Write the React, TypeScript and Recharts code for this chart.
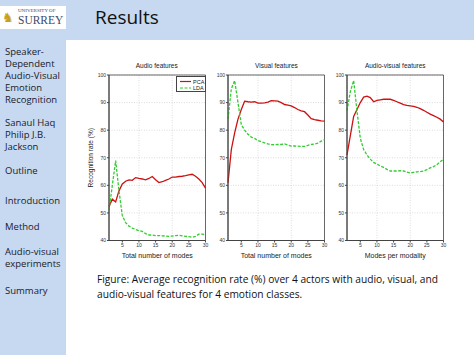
import React from 'react';
import { LineChart, Line, XAxis, YAxis, CartesianGrid, ReferenceArea } from 'recharts';

const modes = [1, 2, 3, 4, 5, 6, 7, 8, 9, 10, 11, 12, 13, 14, 15, 16, 17, 18, 19, 20, 21, 22, 23, 24, 25, 26, 27, 28, 29, 30];

const audioPca = [52.3, 55, 54, 58, 60.5, 61.5, 62, 61.8, 62.8, 62.5, 62.3, 62, 62.5, 63.2, 62, 61, 61.3, 61.8, 62.3, 63, 63, 63.2, 63.3, 63.5, 63.8, 64, 63.3, 62.3, 61, 59];
const audioLda = [51, 60, 69, 58, 49, 46.5, 45.2, 44.5, 44, 43.6, 43.3, 42.5, 42, 42, 41.8, 41.8, 41.7, 41.6, 41.5, 41.6, 41.8, 41.9, 41.7, 41.5, 41.4, 41.2, 41.5, 42.3, 42.3, 42.1];

const visualPca = [61, 73, 79, 84, 87.5, 90.5, 90.3, 90.2, 90.3, 89.8, 89.8, 89.9, 90.2, 90.7, 90.6, 90.5, 90, 89.3, 89.1, 88.8, 88.2, 87.5, 87, 86.7, 85.5, 84.2, 83.8, 83.6, 83.4, 83.3];
const visualLda = [84, 95, 98, 90, 82, 80, 78.5, 77.5, 77, 76.2, 75.8, 75.4, 75, 74.8, 74.7, 74.8, 74.8, 75, 74.6, 74.2, 74.3, 74.2, 74.1, 74.1, 74.5, 74.8, 75, 75.3, 76, 76.5];

const avPca = [71, 78, 85, 87.5, 90, 92, 92.3, 91.8, 90.3, 90.8, 91, 91.2, 91.2, 91.2, 90.8, 90.3, 89.8, 89.3, 89, 88.8, 88.6, 88.3, 87.8, 87.2, 86.5, 85.8, 85.3, 84.7, 84, 83];
const avLda = [87, 94, 98, 87, 77, 73, 71, 69.5, 68.3, 67.7, 67, 66.5, 65.8, 65.2, 65.2, 65.2, 65.3, 65.2, 64.8, 64.5, 64.7, 64.9, 65, 65.2, 65.7, 66.3, 66.8, 67.5, 68.5, 69.5];

const xTicks = [5, 10, 15, 20, 25, 30];
const yTicks = [40, 50, 60, 70, 80, 90, 100];

const sideItems = [
  'Speaker-', 'Dependent', 'Audio-Visual', 'Emotion', 'Recognition',
  'Sanaul Haq', 'Philip J.B.', 'Jackson', 'Outline', 'Introduction', 'Method',
  'Audio-visual', 'experiments', 'Summary',
];
// vertical centre of each sidebar line
const sideTops = [52, 64, 76, 88, 100, 123, 135, 147, 171, 201, 227, 252, 264, 291];

const tableFor = (pca: number[], lda: number[]) =>
  modes.map((m, i) => ({ mode: m, pca: pca[i], lda: lda[i] }));

const sans = 'Liberation Sans, Arial, sans-serif';
const tickStyle = { fontSize: 5, fill: '#333', fontFamily: sans };

interface PanelProps {
  left: number;
  title: string;
  xLabel: string;
  pca: number[];
  lda: number[];
  yLabel?: boolean;
  legend?: boolean;
}

const Panel: React.FC<PanelProps> = ({ left, title, xLabel, pca, lda, yLabel, legend }) => {
  const axisW = yLabel ? 24 : 12;
  const plotW = 96.5;
  return (
    <div style={{ position: 'absolute', left: left - axisW, top: 60 }}>
      <div style={{ position: 'absolute', left: axisW, top: 2, width: plotW, textAlign: 'center', fontSize: 6.5, color: '#222', fontFamily: sans }}>
        {title}
      </div>
      <LineChart
        width={axisW + plotW + 4}
        height={200}
        data={tableFor(pca, lda)}
        margin={{ top: 15, right: 4, left: 0, bottom: 0 }}
      >
        <CartesianGrid stroke="#bbb" strokeDasharray="1 1.5" strokeWidth={0.5} />
        <XAxis
          dataKey="mode"
          type="number"
          domain={[1, 30]}
          ticks={xTicks}
          height={19.5}
          tick={tickStyle}
          tickSize={2}
          tickMargin={1}
          stroke="#444"
          label={{ value: xLabel, position: 'insideBottom', offset: 2, fontSize: 7, fill: '#222', fontFamily: sans }}
        />
        <YAxis
          type="number"
          domain={[40, 100]}
          ticks={yTicks}
          width={axisW}
          tick={tickStyle}
          tickSize={2}
          tickMargin={1}
          stroke="#444"
          label={yLabel ? { value: 'Recognition rate (%)', angle: -90, position: 'insideLeft', offset: 6, fontSize: 6.5, fill: '#222', fontFamily: sans, style: { textAnchor: 'middle' } } : undefined}
        />
        <ReferenceArea x1={1} x2={30} y1={40} y2={100} fill="none" stroke="#444" strokeWidth={0.8} ifOverflow="visible" />
        <Line type="linear" dataKey="pca" stroke="#cc1111" strokeWidth={1.3} dot={false} isAnimationActive={false} />
        <Line type="linear" dataKey="lda" stroke="#33cc33" strokeWidth={1.3} strokeDasharray="3 1.5" dot={false} isAnimationActive={false} />
      </LineChart>
      {legend && (
        <div style={{ position: 'absolute', left: axisW + 67, top: 16, width: 30, height: 16, background: '#fff', border: '0.8px solid #444', boxSizing: 'border-box' }}>
          <svg width={30} height={16} style={{ position: 'absolute', left: 0, top: 0 }}>
            <line x1={3} y1={4.5} x2={14} y2={4.5} stroke="#cc1111" strokeWidth={1.2} />
            <line x1={3} y1={11} x2={14} y2={11} stroke="#33cc33" strokeWidth={1.2} strokeDasharray="3 1.5" />
            <text x={16} y={6.5} fontSize={5.5} fill="#222" fontFamily={sans}>PCA</text>
            <text x={16} y={13} fontSize={5.5} fill="#222" fontFamily={sans}>LDA</text>
          </svg>
        </div>
      )}
    </div>
  );
};

export default function App() {
  return (
    <div style={{ position: 'absolute', left: 0, top: 0, width: 474, height: 355, background: '#fff', overflow: 'hidden', fontFamily: 'Open Sans, Liberation Sans, sans-serif' }}>
      <div style={{ position: 'absolute', left: 0, top: 0, width: 474, height: 40, background: '#c6d9f1' }} />
      <div style={{ position: 'absolute', left: 0, top: 40, width: 66, height: 315, background: '#c6d9f1' }} />
      <div style={{ position: 'absolute', left: 0, top: 6, width: 66, height: 23, background: '#fff' }}>
        <div style={{ position: 'absolute', left: 2, top: 3, fontSize: 13, color: '#c8a020', lineHeight: '16px' }}>♞</div>
        <div style={{ position: 'absolute', left: 18, top: 2, fontSize: 5, color: '#3a4a6a', fontFamily: 'Liberation Serif, serif' }}>UNIVERSITY OF</div>
        <div style={{ position: 'absolute', left: 18, top: 8, fontSize: 11.5, color: '#3a4a6a', fontFamily: 'Liberation Serif, serif', lineHeight: '12px' }}>SURREY</div>
      </div>
      <div style={{ position: 'absolute', left: 95, top: 4, fontSize: 19, color: '#111', fontFamily: 'Open Sans, sans-serif' }}>Results</div>
      {sideItems.map((s, i) => (
        <div key={i} style={{ position: 'absolute', left: 5, top: sideTops[i] - 7, fontSize: 9.5, lineHeight: '14px', color: '#1a1a2a', fontFamily: 'Open Sans, sans-serif', whiteSpace: 'nowrap' }}>{s}</div>
      ))}
      <Panel left={108.5} title="Audio features" xLabel="Total number of modes" pca={audioPca} lda={audioLda} yLabel legend />
      <Panel left={228.2} title="Visual features" xLabel="Total number of modes" pca={visualPca} lda={visualLda} />
      <Panel left={347} title="Audio-visual features" xLabel="Modes per modality" pca={avPca} lda={avLda} />
      <div style={{ position: 'absolute', left: 97, top: 272, fontSize: 10.2, lineHeight: '15px', color: '#111', fontFamily: 'Open Sans, sans-serif', whiteSpace: 'nowrap' }}>
        <div>Figure: Average recognition rate (%) over 4 actors with audio, visual, and</div>
        <div>audio-visual features for 4 emotion classes.</div>
      </div>
    </div>
  );
}
